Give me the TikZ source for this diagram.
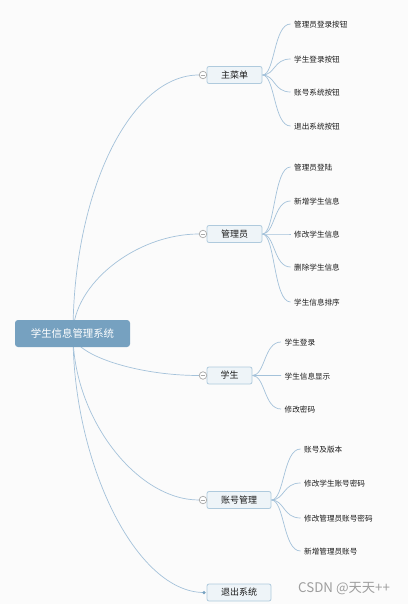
\documentclass[tikz,border=0pt]{standalone}
\usepackage{fontspec}
\setmainfont{Noto Sans CJK SC}
\usetikzlibrary{calc}
\pgfdeclarelayer{bg}
\pgfdeclarelayer{lines}
\pgfsetlayers{bg,lines,main}
\definecolor{linec}{HTML}{A4C2DA}
\definecolor{rootc}{HTML}{76A1C0}
\definecolor{branchfill}{HTML}{EEF4F8}
\definecolor{branchdraw}{HTML}{AFCADD}
\definecolor{markc}{HTML}{A8A8A8}
\definecolor{textc}{HTML}{1A1A1A}
\definecolor{bgc}{HTML}{FBFBFB}
\tikzset{
  conn/.style={draw=linec, line width=0.7pt},
  rootbox/.style={fill=rootc, draw=none, rounded corners=3pt, minimum width=115pt, minimum height=27pt,
    text=white, font=\fontsize{10.4}{12}\selectfont, inner sep=0pt},
  branchbox/.style={fill=branchfill, draw=branchdraw, line width=0.8pt, rounded corners=2pt,
    minimum height=17pt, text=textc, font=\fontsize{9}{11}\selectfont, inner sep=0pt},
  leafbox/.style={anchor=west, inner xsep=3.5pt, inner ysep=1pt, text height=0.86em, text depth=0.12em,
    text=textc, font=\fontsize{7.6}{9}\selectfont},
  markbox/.style={circle, draw=markc, fill=white, line width=0.7pt, minimum size=7.5pt, inner sep=0pt},
  dotbox/.style={circle, fill=rootc, minimum size=3.5pt, inner sep=0pt},
}
\newcommand\leafcurve[2]{%
  \draw[conn] (#1.east) .. controls ($(#1.east)!0.45!(#2.west |- #1.east)$) and ($(#2.west)!0.6!(#1.east |- #2.west)$) .. (#2.west);}
\begin{document}
\begin{tikzpicture}[x=1pt,y=-1pt]
\begin{pgfonlayer}{bg}
\fill[bgc] (0,0) rectangle (408,604);
\end{pgfonlayer}
\useasboundingbox (0,0) rectangle (408,604);

% root
\node[rootbox] (root) at (72.5,333.5) {学生信息管理系统};
\coordinate (rc) at (73,334);

% branches
\node[branchbox, minimum width=55pt] (b1) at (234.5,75) {主菜单};
\node[branchbox, minimum width=55pt] (b2) at (234.5,234) {管理员};
\node[branchbox, minimum width=45pt] (b3) at (229.5,375.5) {学生};
\node[branchbox, minimum width=64pt] (b4) at (239,500) {账号管理};
\node[branchbox, minimum width=64pt] (b5) at (239,592.5) {退出系统};

% collapse markers
\foreach \i/\y in {1/75,2/234,3/375.5,4/500}{
  \node[markbox] (m\i) at (203,\y) {};
  \draw[markc, line width=0.7pt] ($(m\i.center)+(-2.4,0)$) -- ($(m\i.center)+(2.4,0)$);
}
\node[dotbox] (m5) at (204,592.5) {};

% leaves
\node[leafbox] (l11) at (290.5,24) {管理员登录按钮};
\node[leafbox] (l12) at (290.5,59) {学生登录按钮};
\node[leafbox] (l13) at (290.5,92) {账号系统按钮};
\node[leafbox] (l14) at (290.5,126) {退出系统按钮};

\node[leafbox] (l21) at (290.5,167) {管理员登陆};
\node[leafbox] (l22) at (290.5,201) {新增学生信息};
\node[leafbox] (l23) at (290.5,234) {修改学生信息};
\node[leafbox] (l24) at (290.5,267) {删除学生信息};
\node[leafbox] (l25) at (290.5,302) {学生信息排序};

\node[leafbox] (l31) at (281,342) {学生登录};
\node[leafbox] (l32) at (281,375.5) {学生信息显示};
\node[leafbox] (l33) at (281,409) {修改密码};

\node[leafbox] (l41) at (300.5,449) {账号及版本};
\node[leafbox] (l42) at (300.5,483) {修改学生账号密码};
\node[leafbox] (l43) at (300.5,518) {修改管理员账号密码};
\node[leafbox] (l44) at (300.5,551) {新增管理员账号};

% watermark
\node[anchor=west, inner sep=0pt, text=black!38, font=\fontsize{13.3}{15}\selectfont] (wm) at (298,589) {CSDN @天天++};

\begin{pgfonlayer}{lines}
\draw[conn] (rc) .. controls (73,192) and (130,75) .. (m1.west);
\draw[conn] (rc) .. controls (73,284) and (136,234) .. (m2.west);
\draw[conn] (rc) .. controls (73,354.5) and (136,375.5) .. (m3.west);
\draw[conn] (rc) .. controls (73,417) and (136,500) .. (m4.west);
\draw[conn] (rc) .. controls (73,463) and (136,592.5) .. (m5.center);
\leafcurve{b1}{l11}\leafcurve{b1}{l12}\leafcurve{b1}{l13}\leafcurve{b1}{l14}
\leafcurve{b2}{l21}\leafcurve{b2}{l22}\leafcurve{b2}{l23}\leafcurve{b2}{l24}\leafcurve{b2}{l25}
\leafcurve{b3}{l31}\leafcurve{b3}{l32}\leafcurve{b3}{l33}
\leafcurve{b4}{l41}\leafcurve{b4}{l42}\leafcurve{b4}{l43}\leafcurve{b4}{l44}
\end{pgfonlayer}
\end{tikzpicture}
\end{document}
